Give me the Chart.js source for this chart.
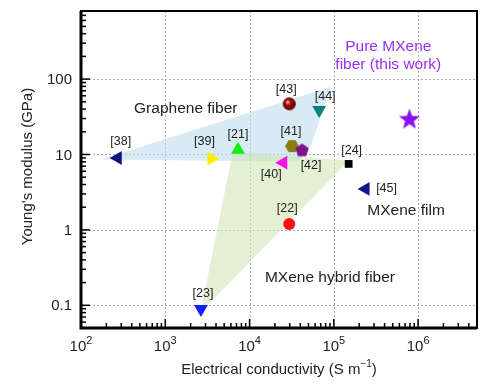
<!DOCTYPE html>
<html>
<head>
<meta charset="utf-8">
<script src="https://cdn.jsdelivr.net/npm/chart.js@4"></script>
<style>
    body { margin: 0; background: #fff; }
    canvas { display: block; }
</style>
</head>
<body>
<canvas id="chart" width="489" height="391"></canvas>
<script>
// reference points (conductivity in S/m, modulus in GPa)
const refs = ['[38]', '[39]', '[21]', '[43]', '[44]', '[41]', '[42]', '[40]', '[24]', '[45]', '[22]', '[23]'];
const conductivity = [273, 3530, 7300, 29600, 67000, 31900, 42000, 25100, 150000, 238000, 29600, 2650];
const modulus = [9.0, 8.8, 11.6, 47, 39, 12.9, 11.3, 7.8, 7.5, 3.5, 1.2, 0.089];

// this work
const thisWorkX = [790000];
const thisWorkY = [29];

// shaded regions
const grapheneX = [170, 93000, 54000, 37600, 170];
const grapheneY = [8.6, 79, 13.5, 8.05, 8.6];
const hybridX = [6320, 152000, 2630, 6320];
const hybridY = [10.9, 8.3, 0.081, 10.9];

// tick labels
const xTicks = [100, 1000, 10000, 100000, 1000000];
const xTickExp = ['2', '3', '4', '5', '6'];
const yTicks = [0.1, 1, 10, 100];
const yTickLabels = ['0.1', '1', '10', '100'];

const FONT = '"Liberation Sans", Arial, Helvetica, sans-serif';

function shapeCanvas(draw, size) {
    const c = document.createElement('canvas');
    c.width = size;
    c.height = size;
    draw(c.getContext('2d'), size / 2);
    return c;
}

function polygon(n, r, color, inner) {
    return shapeCanvas((g, m) => {
        g.beginPath();
        const steps = inner ? n * 2 : n;
        for (let i = 0; i < steps; i++) {
            const a = -Math.PI / 2 + i * Math.PI * 2 / steps;
            const rr = inner && i % 2 ? inner : r;
            g.lineTo(m + rr * Math.cos(a), m + rr * Math.sin(a));
        }
        g.closePath();
        g.fillStyle = color;
        g.fill();
    }, Math.ceil(r * 2 + 2));
}

const hexagon = shapeCanvas((g, m) => {
    g.beginPath();
    for (let i = 0; i < 6; i++) {
        const a = i * Math.PI / 3;
        g.lineTo(m + 7 * Math.cos(a), m + 7 * Math.sin(a));
    }
    g.closePath();
    g.fillStyle = '#8a7d12';
    g.fill();
}, 16);
const pentagon = polygon(5, 7, '#80148a');
const star = polygon(5, 11, '#8a10f0', 4.6);
const sphere = shapeCanvas((g, m) => {
    const grad = g.createRadialGradient(m - 2, m - 2, 0.5, m, m, 6.5);
    grad.addColorStop(0, '#f0c0c0');
    grad.addColorStop(0.35, '#a01010');
    grad.addColorStop(1, '#6a0000');
    g.beginPath();
    g.arc(m, m, 6.5, 0, Math.PI * 2);
    g.fillStyle = grad;
    g.fill();
}, 15);

// marker style per reference
const markerStyle = {
    '[38]': { style: 'triangle', rot: -90, color: '#0c1280', r: 8 },
    '[39]': { style: 'triangle', rot: 90, color: '#ffee00', r: 8 },
    '[21]': { style: 'triangle', rot: 0, color: '#11ee11', r: 8 },
    '[43]': { style: sphere, rot: 0, color: '#900000', r: 6 },
    '[44]': { style: 'triangle', rot: 180, color: '#0b8080', r: 8 },
    '[41]': { style: hexagon, rot: 0, color: '#8a7d12', r: 7 },
    '[42]': { style: pentagon, rot: 0, color: '#80148a', r: 7 },
    '[40]': { style: 'triangle', rot: -90, color: '#ff11ee', r: 8 },
    '[24]': { style: 'rect', rot: 0, color: '#000000', r: 5.5 },
    '[45]': { style: 'triangle', rot: -90, color: '#10168a', r: 8 },
    '[22]': { style: 'circle', rot: 0, color: '#ff1010', r: 6 },
    '[23]': { style: 'triangle', rot: 180, color: '#1020ff', r: 8 }
};
// label offset from marker, in px
const labelOffset = {
    '[38]': [3, -16], '[39]': [-7, -17], '[21]': [0, -15], '[43]': [-3, -14],
    '[44]': [6, -13], '[41]': [-1, -15], '[42]': [9, 15], '[40]': [-12, 12],
    '[24]': [3, -13], '[45]': [21, 0], '[22]': [-2, -15], '[23]': [2, -16]
};

const regionText = [
    { text: 'Graphene fiber', x: 1750, y: 40, color: '#222' },
    { text: 'MXene film', x: 720000, y: 1.8, color: '#222' },
    { text: 'MXene hybrid fiber', x: 90000, y: 0.235, color: '#222' },
    { text: 'Pure MXene', x: 443000, y: 267, color: '#9b30f0' },
    { text: 'fiber (this work)', x: 443000, y: 155, color: '#9b30f0' }
];

const toPts = (xs, ys) => xs.map((x, i) => ({ x: x, y: ys[i] }));

function minorValues(min, max) {
    const out = [];
    for (let e = Math.floor(Math.log10(min)); e <= Math.ceil(Math.log10(max)); e++) {
        for (let k = 1; k <= 9; k++) {
            const v = k * Math.pow(10, e);
            if (v >= min * 0.999 && v <= max * 1.001) out.push({ v: v, major: k === 1 });
        }
    }
    return out;
}

const axesPlugin = {
    id: 'axesPlugin',
    beforeDatasetsDraw(chart) {
        const { ctx, chartArea: a, scales: { x, y } } = chart;
        ctx.save();
        ctx.strokeStyle = '#b0b0b0';
        ctx.lineWidth = 1;
        ctx.setLineDash([2, 2]);
        xTicks.slice(1).forEach(v => {
            const px = Math.round(x.getPixelForValue(v)) + 0.5;
            ctx.beginPath(); ctx.moveTo(px, a.top); ctx.lineTo(px, a.bottom); ctx.stroke();
        });
        yTicks.forEach(v => {
            const py = Math.round(y.getPixelForValue(v)) + 0.5;
            ctx.beginPath(); ctx.moveTo(a.left, py); ctx.lineTo(a.right, py); ctx.stroke();
        });
        ctx.restore();
    },
    afterDatasetsDraw(chart) {
        const { ctx, chartArea: a, scales: { x, y } } = chart;
        ctx.save();

        // point labels
        ctx.font = '12.5px ' + FONT;
        ctx.fillStyle = '#222';
        ctx.textAlign = 'center';
        ctx.textBaseline = 'middle';
        refs.forEach((r, i) => {
            const o = labelOffset[r];
            ctx.fillText(r, x.getPixelForValue(conductivity[i]) + o[0], y.getPixelForValue(modulus[i]) + o[1]);
        });

        // region labels
        ctx.font = '15.5px ' + FONT;
        regionText.forEach(t => {
            ctx.fillStyle = t.color;
            ctx.fillText(t.text, x.getPixelForValue(t.x), y.getPixelForValue(t.y));
        });

        // frame
        ctx.strokeStyle = '#000';
        ctx.lineWidth = 2;
        ctx.strokeRect(a.left, a.top, a.right - a.left, a.bottom - a.top);
        ctx.lineWidth = 3;
        ctx.beginPath();
        ctx.moveTo(a.left, a.top); ctx.lineTo(a.left, a.bottom); ctx.lineTo(a.right, a.bottom);
        ctx.stroke();

        // inward tick marks
        ctx.lineWidth = 1.5;
        minorValues(x.min, x.max).forEach(t => {
            const px = x.getPixelForValue(t.v);
            if (px <= a.left + 2 || px >= a.right - 1) return;
            ctx.beginPath(); ctx.moveTo(px, a.bottom); ctx.lineTo(px, a.bottom - (t.major ? 9 : 5)); ctx.stroke();
        });
        minorValues(y.min, y.max).forEach(t => {
            const py = y.getPixelForValue(t.v);
            if (py >= a.bottom - 2 || py <= a.top + 1) return;
            ctx.beginPath(); ctx.moveTo(a.left, py); ctx.lineTo(a.left + (t.major ? 9 : 5), py); ctx.stroke();
        });

        // y tick labels
        ctx.fillStyle = '#222';
        ctx.font = '15px ' + FONT;
        ctx.textAlign = 'right';
        ctx.textBaseline = 'middle';
        yTicks.forEach((v, i) => ctx.fillText(yTickLabels[i], a.left - 9, y.getPixelForValue(v) + 1));

        // x tick labels with superscript
        xTicks.forEach((v, i) => {
            const px = x.getPixelForValue(v);
            ctx.font = '15px ' + FONT;
            const wBase = ctx.measureText('10').width;
            ctx.font = '11px ' + FONT;
            const wExp = ctx.measureText(xTickExp[i]).width;
            const left = px - (wBase + wExp) / 2;
            ctx.textAlign = 'left';
            ctx.textBaseline = 'alphabetic';
            ctx.font = '15px ' + FONT;
            ctx.fillText('10', left, a.bottom + 23);
            ctx.font = '11px ' + FONT;
            ctx.fillText(xTickExp[i], left + wBase, a.bottom + 16);
        });

        // axis titles
        ctx.font = '15px ' + FONT;
        const t1 = 'Electrical conductivity (S m';
        const w1 = ctx.measureText(t1).width;
        ctx.font = '10px ' + FONT;
        const w2 = ctx.measureText('\u22121').width;
        ctx.font = '15px ' + FONT;
        const w3 = ctx.measureText(')').width;
        let sx = (a.left + a.right) / 2 - (w1 + w2 + w3) / 2;
        ctx.textAlign = 'left';
        ctx.fillText(t1, sx, a.bottom + 46);
        ctx.font = '10px ' + FONT;
        ctx.fillText('\u22121', sx + w1, a.bottom + 39);
        ctx.font = '15px ' + FONT;
        ctx.fillText(')', sx + w1 + w2, a.bottom + 46);

        ctx.translate(32, (a.top + a.bottom) / 2 - 3);
        ctx.rotate(-Math.PI / 2);
        ctx.textAlign = 'center';
        ctx.fillText("Young's modulus (GPa)", 0, 0);
        ctx.restore();
    }
};

const refPoints = toPts(conductivity, modulus);

new Chart(document.getElementById('chart'), {
    type: 'scatter',
    data: {
        datasets: [
            {
                label: 'Graphene fiber',
                data: toPts(grapheneX, grapheneY),
                showLine: true,
                fill: 'shape',
                backgroundColor: 'rgba(190, 222, 236, 0.6)',
                borderWidth: 0,
                pointRadius: 0,
                tension: 0,
                order: 3
            },
            {
                label: 'MXene hybrid fiber',
                data: toPts(hybridX, hybridY),
                showLine: true,
                fill: 'shape',
                backgroundColor: 'rgba(205, 228, 175, 0.55)',
                borderWidth: 0,
                pointRadius: 0,
                tension: 0,
                order: 2
            },
            {
                label: 'Literature',
                data: refPoints,
                pointStyle: refs.map(r => markerStyle[r].style),
                rotation: refs.map(r => markerStyle[r].rot),
                radius: refs.map(r => markerStyle[r].r),
                backgroundColor: refs.map(r => markerStyle[r].color),
                borderColor: refs.map(r => markerStyle[r].color),
                borderWidth: 0,
                order: 1
            },
            {
                label: 'This work',
                data: toPts(thisWorkX, thisWorkY),
                pointStyle: star,
                radius: 11,
                backgroundColor: '#8a10f0',
                borderWidth: 0,
                order: 0
            }
        ]
    },
    options: {
        responsive: false,
        animation: false,
        layout: { padding: { left: 0, right: 12, top: 11, bottom: 0 } },
        plugins: { legend: { display: false }, tooltip: { enabled: false } },
        scales: {
            x: {
                type: 'logarithmic',
                min: 100,
                max: 5000000,
                afterBuildTicks: s => { s.ticks = xTicks.map(v => ({ value: v })); },
                afterFit: s => { s.height = 63; },
                ticks: { display: false },
                grid: { display: false },
                border: { display: false }
            },
            y: {
                type: 'logarithmic',
                min: 0.05,
                max: 800,
                afterBuildTicks: s => { s.ticks = yTicks.map(v => ({ value: v })); },
                afterFit: s => { s.width = 81; },
                ticks: { display: false },
                grid: { display: false },
                border: { display: false }
            }
        }
    },
    plugins: [axesPlugin]
});
</script>
</body>
</html>
